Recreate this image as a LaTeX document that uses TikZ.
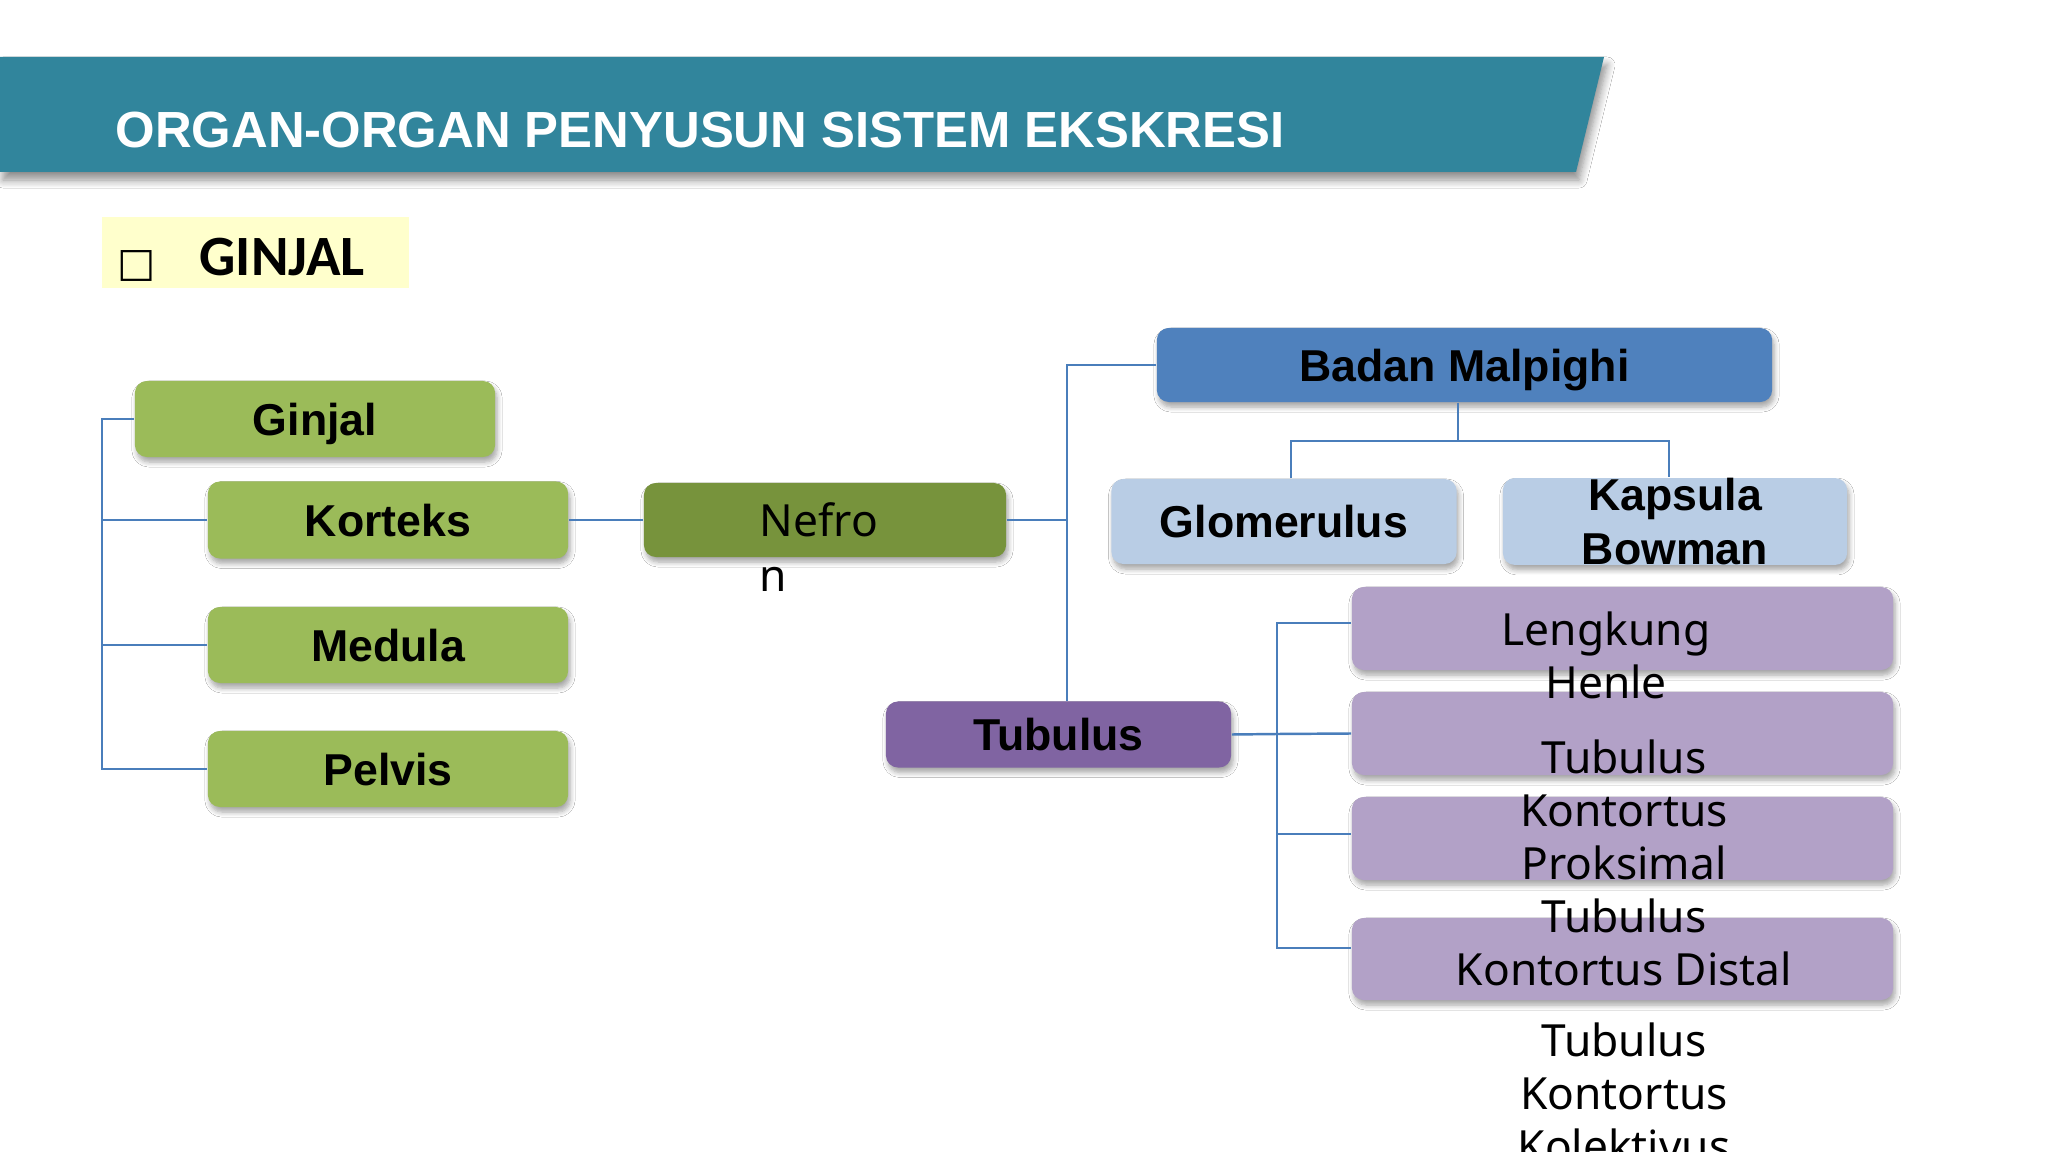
\documentclass[tikz,border=0pt]{standalone}
\usepackage{fontspec}
\setmainfont{Liberation Sans}
\newfontfamily\nsans{Noto Sans}
\newfontfamily\carl{Carlito}
\newfontfamily\djv{DejaVu Sans}
\usetikzlibrary{shadows.blur}
\definecolor{bannerc}{HTML}{31859C}
\definecolor{ginjalbg}{HTML}{FFFFCC}
\definecolor{greenc}{HTML}{9BBB59}
\definecolor{dgreenc}{HTML}{77933C}
\definecolor{bluec}{HTML}{4F81BD}
\definecolor{lbluec}{HTML}{B9CDE5}
\definecolor{purpc}{HTML}{8064A2}
\definecolor{lpurpc}{HTML}{B2A1C7}
\definecolor{linec}{HTML}{4A7EBB}
\begin{document}
\begin{tikzpicture}[x=0.01cm,y=-0.01cm,
  conn/.style={draw=linec,line width=0.7pt},
  shad/.style={blur shadow={shadow xshift=0.02cm,shadow yshift=-0.05cm,shadow blur steps=6,shadow opacity=35,shadow blur radius=0.05cm}},
  bx/.style={rounded corners=0.12cm,inner sep=0pt,shad},
  boldtxt/.style={font=\fontsize{12.7}{15.4}\selectfont\bfseries},
  onel/.style={text height=0.32cm,text depth=0cm},
  otext/.style={inner sep=0pt,font=\nsans\fontsize{12.6}{15}\selectfont}]
\useasboundingbox (0,0) rectangle (2048,1152);
\clip (0,0) rectangle (2048,1152);
\fill[white] (0,0) rectangle (2048,1152);
% banner
\fill[bannerc,blur shadow={shadow xshift=0.03cm,shadow yshift=-0.08cm,shadow blur steps=8,shadow opacity=45,shadow blur radius=0.08cm}] (0,57) -- (1604,57) -- (1576,172) -- (0,172) -- cycle;
\node[anchor=base west,inner sep=0pt,text=white,font=\bfseries\fontsize{14.45}{17}\selectfont] (title) at (115,148) {ORGAN-ORGAN PENYUSUN SISTEM EKSKRESI};
% GINJAL heading
\node[fill=ginjalbg,minimum width=3.07cm,minimum height=0.71cm,inner sep=0pt] (gbox) at (255.5,252.5) {};
\node[anchor=base west,inner sep=0pt,font=\djv\fontsize{11.5}{14}\selectfont] (sq) at (117,277) {□};
\node[anchor=base west,inner sep=0pt,font=\carl\bfseries\fontsize{16.2}{19}\selectfont] (gtitle) at (199,276) {GINJAL};
% green boxes
\node[bx,fill=greenc,boldtxt,onel,minimum width=3.6cm,minimum height=0.76cm] (ginjal) at (315,419) {Ginjal};
\node[bx,fill=greenc,boldtxt,onel,minimum width=3.6cm,minimum height=0.77cm] (korteks) at (388,520) {Korteks};
\node[bx,fill=greenc,boldtxt,onel,minimum width=3.6cm,minimum height=0.76cm] (medula) at (388,645) {Medula};
\node[bx,fill=greenc,boldtxt,onel,minimum width=3.6cm,minimum height=0.76cm] (pelvis) at (388,769) {Pelvis};
% nefron
\node[bx,fill=dgreenc,minimum width=3.62cm,minimum height=0.74cm] (nefron) at (825,520) {};
\node[anchor=base west,align=left,inner sep=0pt,font=\nsans\fontsize{12.6}{15.6}\selectfont] (nefrolbl) at (759,591) {Nefro\\n};
% badan malpighi
\node[bx,fill=bluec,boldtxt,onel,minimum width=6.15cm,minimum height=0.74cm] (badan) at (1464.5,365) {Badan Malpighi};
\node[bx,fill=lbluec,boldtxt,onel,minimum width=3.45cm,minimum height=0.85cm] (glom) at (1284,521.5) {Glomerulus};
\node[bx,fill=lbluec,boldtxt,align=center,minimum width=3.44cm,minimum height=0.85cm] (kaps) at (1675,521.5) {Kapsula\\Bowman};
% tubulus
\node[bx,fill=purpc,boldtxt,onel,minimum width=3.45cm,minimum height=0.66cm] (tubulus) at (1058.5,734.5) {Tubulus};
\node[bx,fill=lpurpc,minimum width=5.41cm,minimum height=0.83cm] (p1) at (1622.5,628.5) {};
\node[bx,fill=lpurpc,minimum width=5.41cm,minimum height=0.83cm] (p2) at (1622.5,733.5) {};
\node[bx,fill=lpurpc,minimum width=5.41cm,minimum height=0.83cm] (p3) at (1622.5,838.5) {};
\node[bx,fill=lpurpc,minimum width=5.41cm,minimum height=0.82cm] (p4) at (1622.5,959) {};
\node[otext,anchor=base,align=center] (t1txt) at (1606,698) {Lengkung\\Henle};
\node[otext,anchor=base,align=center] (t2txt) at (1624,879) {Tubulus\\Kontortus\\Proksimal};
\node[otext,anchor=base,align=center] (t3txt) at (1624,985) {Tubulus\\Kontortus Distal};
\node[otext,anchor=base,align=center] (t4txt) at (1624,1162) {Tubulus\\Kontortus\\Kolektivus};
% connectors left
\coordinate (bl) at (102,419);
\draw[conn] (ginjal.west) -- (bl) |- (pelvis.west);
\draw[conn] (bl |- korteks.west) -- (korteks.west);
\draw[conn] (bl |- medula.west) -- (medula.west);
\draw[conn] (korteks.east) -- (nefron.west);
% nefron to badan / tubulus
\coordinate (vx) at (1067,365);
\draw[conn] (badan.west) -- (vx) -- (vx |- tubulus.north);
\draw[conn] (nefron.east) -- (nefron.east -| vx);
% badan children
\coordinate (bj) at (1458,441);
\draw[conn] (badan.south -| bj) -- (bj);
\draw[conn] ([xshift=0.07cm]glom.north) |- (bj) -| ([xshift=-0.06cm]kaps.north);
% tubulus children
\coordinate (tx) at (1277,734);
\coordinate (w1) at ([yshift=0.055cm]p1.west);
\coordinate (w3) at ([yshift=0.045cm]p3.west);
\coordinate (w4) at ([yshift=0.11cm]p4.west);
\draw[conn] (tubulus.east) -- (tx) -- (p2.west);
\draw[conn] (w1) -- (w1 -| tx) -- (w4 -| tx) -- (w4);
\draw[conn] (w3 -| tx) -- (w3);
\end{tikzpicture}
\end{document}
